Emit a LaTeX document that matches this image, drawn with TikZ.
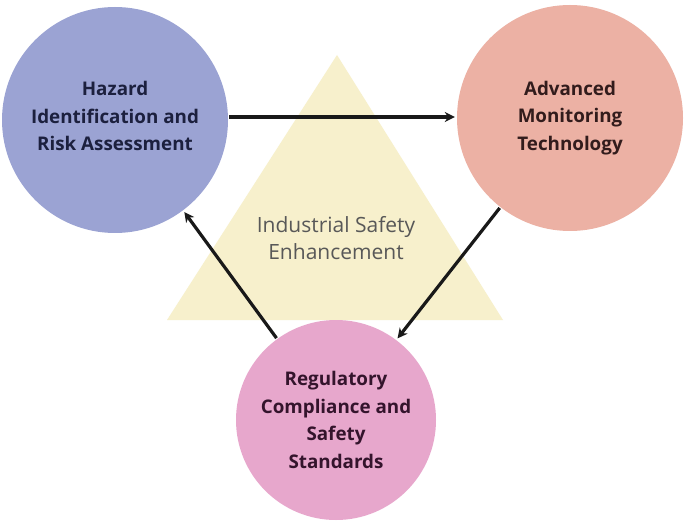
\documentclass[tikz,border=0pt]{standalone}
\usepackage{fontspec}
\setmainfont{Open Sans}
\usetikzlibrary{arrows.meta}
\definecolor{cblue}{RGB}{155,163,211}
\definecolor{corange}{RGB}{236,177,164}
\definecolor{cpink}{RGB}{231,167,204}
\definecolor{ctri}{RGB}{247,240,204}
\definecolor{tblue}{RGB}{28,32,62}
\definecolor{torange}{RGB}{50,28,28}
\definecolor{tpink}{RGB}{52,20,44}
\definecolor{tgray}{RGB}{88,88,88}
\tikzset{
  bubble/.style={circle, inner sep=0pt, align=center, font=\bfseries\fontsize{18.8}{27.5}\selectfont},
  arr/.style={line width=3.2pt, draw=black!90, -{Stealth[length=10pt,width=10pt]}, shorten >=2pt, shorten <=1pt}
}
\begin{document}
\begin{tikzpicture}[x=1pt,y=-1pt]
\useasboundingbox (0,0) rectangle (685,521);
\fill[white] (0,0) rectangle (685,521);
\fill[ctri] (337,55) -- (503,320) -- (167,320) -- cycle;
\node[font=\fontsize{21}{27.5}\selectfont, text=tgray, align=center] (tri) at (336,238) {Industrial Safety\\Enhancement};
\node[bubble, fill=cblue, minimum size=226pt, text=tblue] (haz) at (115,120) {Hazard\\Identification and\\Risk Assessment\\[-20pt]\mbox{}};
\node[bubble, fill=corange, minimum size=226pt, text=torange] (mon) at (570,118) {Advanced\\Monitoring\\Technology};
\node[bubble, fill=cpink, minimum size=200pt, text=tpink] (reg) at (336,420) {Regulatory\\Compliance and\\Safety\\Standards};
\draw[arr] (haz.east |- 0,117) -- (mon.west |- 0,117);
\draw[arr] (mon.232) -- (reg.53);
\draw[arr] (reg.126) -- (haz.307);
\end{tikzpicture}
\end{document}
